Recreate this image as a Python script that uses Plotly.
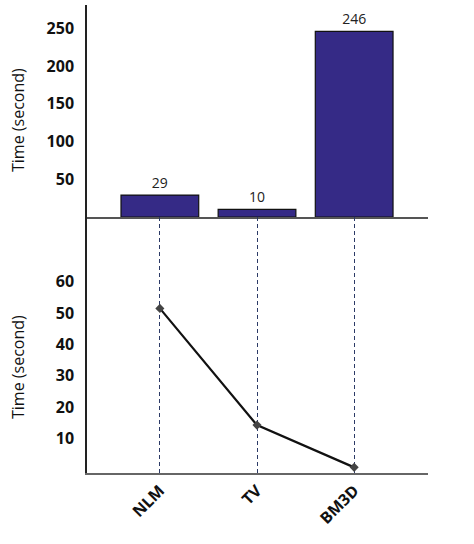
import plotly.graph_objects as go
from plotly.subplots import make_subplots

methods = ["NLM", "TV", "BM3D"]
bar_times = [29, 10, 246]
line_times = [51.5, 14.2, 0.7]
top_ticks = [50, 100, 150, 200, 250]
bottom_ticks = [10, 20, 30, 40, 50, 60]

W, H = 474, 544
ml, mr, mt, mb = 87, 46, 5, 71
split = (473 - 217) / (H - mt - mb)

fig = make_subplots(rows=2, cols=1, shared_xaxes=True, vertical_spacing=0,
                    row_heights=[1 - split, split])

fig.add_trace(go.Bar(
    x=methods, y=bar_times, width=0.8,
    marker=dict(color="#352a86", line=dict(color="#111111", width=1.2)),
    text=[str(v) for v in bar_times], textposition="outside",
    textfont=dict(family="Open Sans", size=14, color="#222222"),
    cliponaxis=False, showlegend=False), row=1, col=1)

fig.add_trace(go.Scatter(
    x=methods, y=line_times, mode="lines+markers",
    line=dict(color="#111111", width=2.2),
    marker=dict(symbol="diamond", size=7, color="#444444"),
    showlegend=False), row=2, col=1)

tickfont = dict(family="Open Sans", size=16, color="#111111", weight="bold")

fig.update_xaxes(range=[-0.75, 2.76], showline=True, linecolor="#555555",
                 linewidth=1.5, ticks="", showgrid=False, zeroline=False)
fig.update_xaxes(showticklabels=False, row=1, col=1)
fig.update_xaxes(showticklabels=True, tickangle=-45, tickfont=tickfont,
                 showgrid=True, griddash="4px,3px", gridcolor="#2c3a66",
                 gridwidth=1, linecolor="#666666", linewidth=2, row=2, col=1)

fig.update_yaxes(showline=True, linecolor="#222222", linewidth=1.5,
                 showgrid=False, zeroline=False, ticks="",
                 tickfont=tickfont, ticklabelstandoff=8)
fig.update_yaxes(range=[0, 281], tickvals=top_ticks, row=1, col=1)
fig.update_yaxes(range=[-1.1, 80.7], tickvals=bottom_ticks, row=2, col=1)

h = H - mt - mb
def ypaper(px):
    return (H - mb - px) / h

for yc in (120, 367):
    fig.add_annotation(text="Time (second)", textangle=-90, showarrow=False,
                       xref="paper", yref="paper",
                       x=(18 - ml) / (W - ml - mr), y=ypaper(yc),
                       xanchor="center", yanchor="middle",
                       font=dict(family="Open Sans", size=16, color="#111111"))

fig.update_layout(width=W, height=H, margin=dict(l=ml, r=mr, t=mt, b=mb),
                  plot_bgcolor="white", paper_bgcolor="white",
                  bargap=0.2)

fig.write_html("out.html")
